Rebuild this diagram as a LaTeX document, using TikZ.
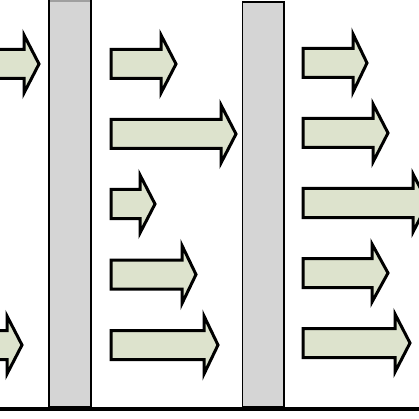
\documentclass[tikz,border=0pt]{standalone}
\definecolor{arrfill}{RGB}{221,227,205}
\definecolor{barfill}{RGB}{213,213,213}
\definecolor{bartop}{RGB}{160,160,160}
\tikzset{
  blkarr/.style={draw=black, line width=3pt, fill=arrfill, line join=miter},
  wall/.style={draw=black, line width=1.5pt, fill=barfill},
}
% #1 tail x, #2 head base x, #3 tip x, #4 centre y
\newcommand\blkarrow[4]{%
  \draw[blkarr] (#1,#4-14.5) -- (#2,#4-14.5) -- (#2,#4-29) -- (#3,#4) -- (#2,#4+29) -- (#2,#4+14.5) -- (#1,#4+14.5) -- cycle;}
\begin{document}
\begin{tikzpicture}[x=1pt,y=-1pt]
\useasboundingbox (0,0) rectangle (419,419);
\fill[white] (0,0) rectangle (419,419);
% walls
\draw[wall] (49,-3) rectangle (91,407);
\fill[bartop] (50,0) rectangle (90,2);
\draw[wall] (242.5,2) rectangle (284,407);
% floor line
\draw[line width=4pt] (0,409) -- (419,409);
% left column
\blkarrow{-5}{24}{39}{64}
\blkarrow{-5}{7}{22}{345}
% middle column
\blkarrow{111}{161}{176}{64}
\blkarrow{111}{221}{236}{134}
\blkarrow{111}{140}{155}{204}
\blkarrow{111}{182}{196}{274.5}
\blkarrow{111}{204}{218}{345}
% right column
\blkarrow{303}{353}{367}{63}
\blkarrow{303}{373}{388}{133}
\blkarrow{303}{413}{428}{203}
\blkarrow{303}{372}{388}{273}
\blkarrow{303}{395}{410}{343}
\end{tikzpicture}
\end{document}
